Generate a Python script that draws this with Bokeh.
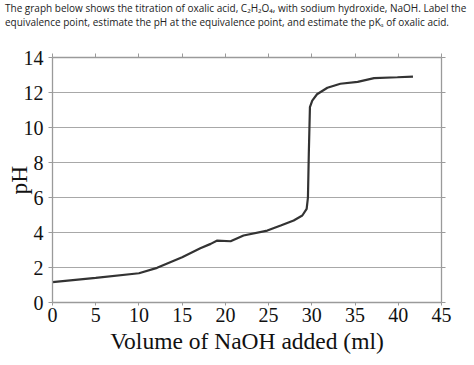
from bokeh.plotting import figure
from bokeh.models import Range1d, LinearAxis, FixedTicker, Div
from bokeh.layouts import column
from bokeh.embed import file_html
from bokeh.resources import INLINE

# data
volume_ml = [0, 5, 10, 12.1, 15, 17.1, 18.3, 19.06, 20.6, 22.1, 24.85, 26.4, 27.9, 28.9, 29.4,
             29.55, 29.65, 29.78, 30.05, 30.6, 31.8, 33.3, 35.3, 37.2, 39.9, 41.7]
ph_values = [1.16, 1.41, 1.67, 1.98, 2.59, 3.1, 3.35, 3.54, 3.5, 3.83, 4.11, 4.4, 4.69, 4.97, 5.35,
             6.0, 8.5, 11.16, 11.54, 11.9, 12.27, 12.5, 12.61, 12.82, 12.87, 12.91]
x_ticks = [0, 5, 10, 15, 20, 25, 30, 35, 40, 45]
y_ticks = [0, 2, 4, 6, 8, 10, 12, 14]
title_lines = [
    "The graph below shows the titration of oxalic acid, C\u2082H\u2082O\u2084, with sodium hydroxide, NaOH. Label the",
    "equivalence point, estimate the pH at the equivalence point, and estimate the pK\u2090 of oxalic acid.",
]
x_label = "Volume of NaOH added (ml)"
y_label = "pH"

AX = "#9a9a9a"
SERIF = "'Liberation Serif'"

title = Div(
    text=("<div style=\"padding-top:1px; padding-left:5px; font-family:'Open Sans'; font-size:10px; "
          "line-height:14px; color:#222; white-space:nowrap;\">"
          + title_lines[0] + "<br>" + title_lines[1] + "</div>"),
    width=470, height=30, margin=0)

p = figure(width=470, height=334, output_backend="svg", toolbar_location=None,
           x_range=Range1d(0, 45), y_range=Range1d(0, 14),
           x_axis_location=None, y_axis_location=None,
           min_border_left=52, min_border_right=29, min_border_top=27, min_border_bottom=62,
           margin=0)
p.outline_line_color = None
p.background_fill_color = "white"
p.border_fill_color = "white"
p.xgrid.grid_line_color = None
p.ygrid.ticker = FixedTicker(ticks=y_ticks)
p.ygrid.grid_line_color = "#a8a8a8"
p.ygrid.grid_line_width = 1

def mk(ticks, labels=True):
    ax = LinearAxis(ticker=FixedTicker(ticks=ticks))
    ax.axis_line_color = AX
    ax.axis_line_width = 1.3
    ax.major_tick_line_color = AX
    ax.major_tick_line_width = 1
    ax.major_tick_out = 4
    ax.major_tick_in = 0
    ax.minor_tick_line_color = None
    ax.major_label_text_font = SERIF
    ax.major_label_text_font_size = "20px"
    ax.major_label_text_color = "#111111"
    ax.axis_label_text_font = SERIF
    ax.axis_label_text_font_size = "23.5px"
    ax.axis_label_text_font_style = "normal"
    ax.axis_label_text_color = "#111111"
    if not labels:
        ax.major_label_overrides = {t: "" for t in ticks}
    return ax

bottom = mk(x_ticks)
bottom.major_tick_out = 3
bottom.major_label_standoff = 2
bottom.axis_label = x_label
bottom.axis_label_standoff = 3
left = mk(y_ticks)
left.major_label_standoff = 5
left.axis_label = y_label
left.axis_label_standoff = -11
top = mk(x_ticks, labels=False)
right = mk(y_ticks, labels=False)
p.add_layout(bottom, "below")
p.add_layout(left, "left")
p.add_layout(top, "above")
p.add_layout(right, "right")

p.line(volume_ml, ph_values, line_color="#333333", line_width=2.2)

layout = column(title, p, spacing=0, margin=0)
open("out.html", "w").write(file_html(layout, INLINE))
